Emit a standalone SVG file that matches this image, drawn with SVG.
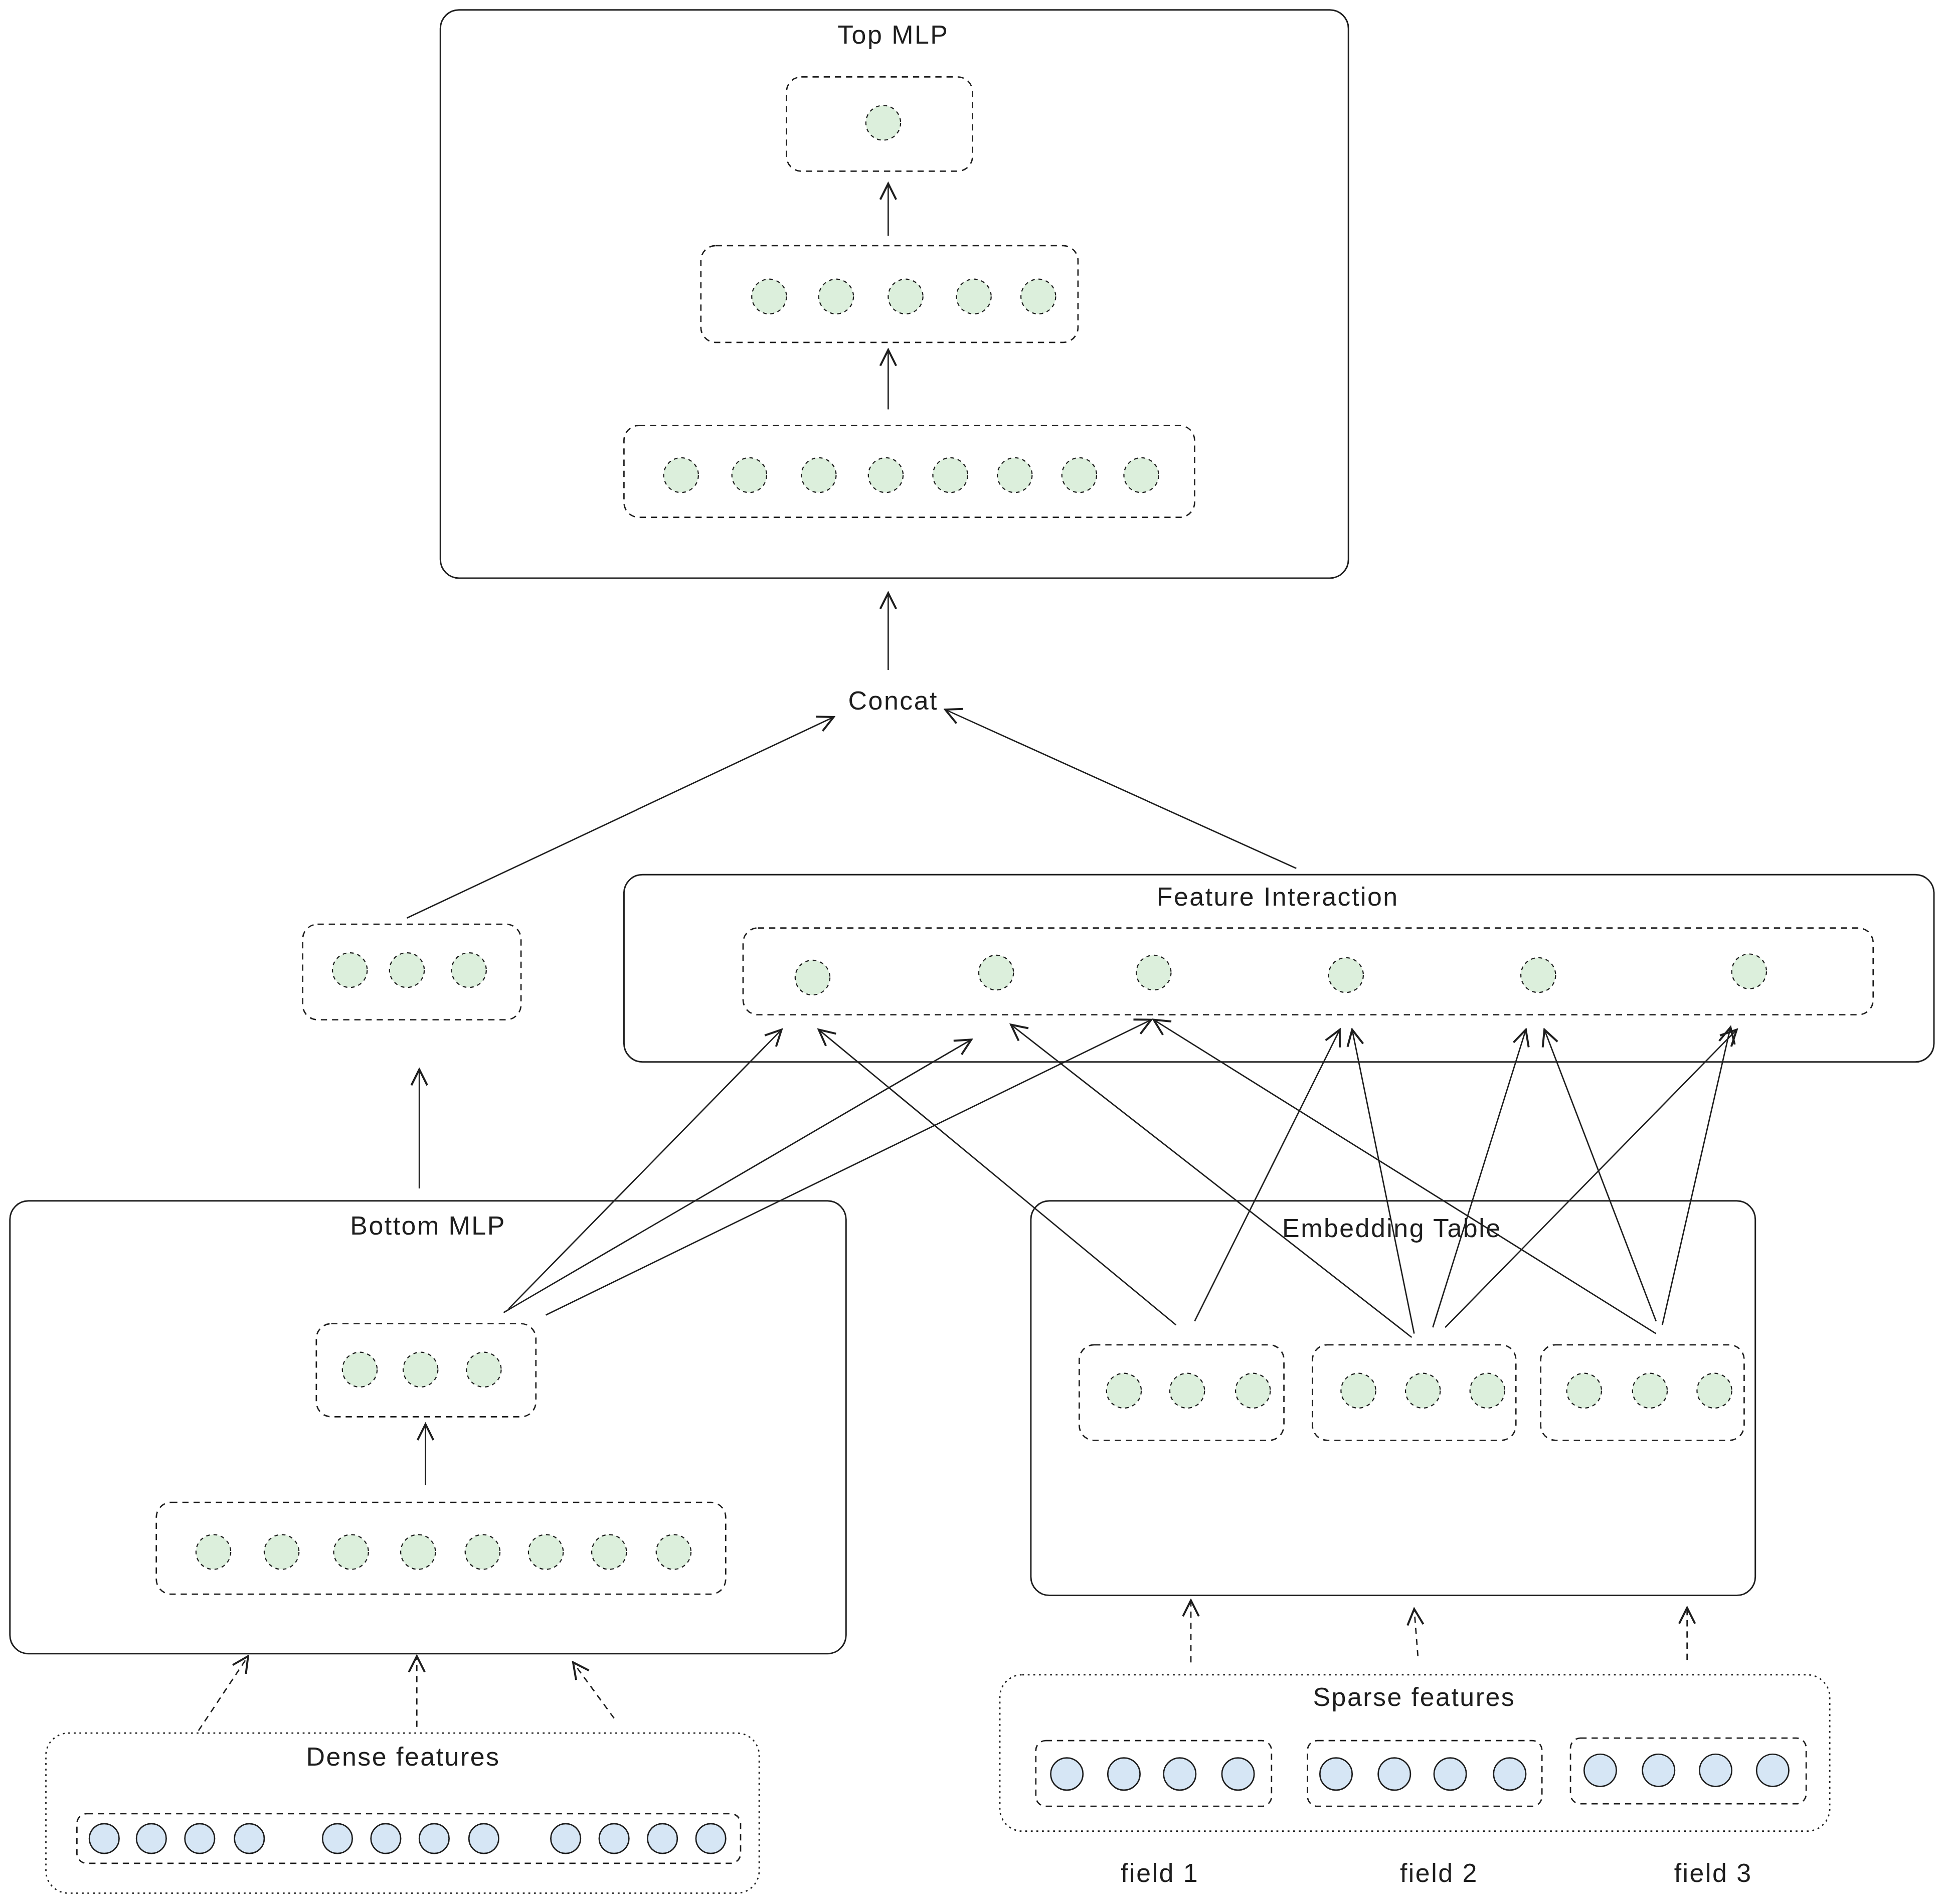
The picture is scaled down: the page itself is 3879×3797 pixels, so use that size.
<svg xmlns="http://www.w3.org/2000/svg" width="3879" height="3797" viewBox="0 0 3879 3797">
<defs>
<style>
.box{fill:none;stroke:#1e1e1e;stroke-width:1.2}
.dash{fill:none;stroke:#1e1e1e;stroke-width:1.1;stroke-dasharray:5 4}
.dot{fill:none;stroke:#1e1e1e;stroke-width:1.1;stroke-dasharray:1.5 3}
.g circle{fill:#dcefdc;stroke:#1e1e1e;stroke-width:0.9;stroke-dasharray:3 3}
.b circle{fill:#d6e6f5;stroke:#1e1e1e;stroke-width:1.1}
.t{font-family:"Liberation Sans",Arial,sans-serif;font-size:21px;fill:#1e1e1e;text-anchor:middle;letter-spacing:1px}
.c line{stroke:#1e1e1e;stroke-width:1.1;marker-end:url(#a)}
.c .d{stroke-dasharray:5 4}
</style>
<marker id="a" viewBox="0 0 20 20" refX="18" refY="10" markerWidth="16" markerHeight="16" markerUnits="userSpaceOnUse" orient="auto"><path d="M2 2 L18 10 L2 18" fill="none" stroke="#1e1e1e" stroke-width="2"/></marker>
</defs>
<rect width="3879" height="3797" fill="#fff"/>
<g transform="scale(2.474)">
<g id="top-mlp"><rect class="box" x="355" y="8" width="732" height="458" rx="15"/><text class="t" x="720" y="35">Top MLP</text>
<rect class="dash" x="634" y="62" width="150" height="76" rx="12"/><g class="g"><circle cx="712" cy="99" r="14"/></g>
<rect class="dash" x="565" y="198" width="304" height="78" rx="12"/><g class="g"><circle cx="620" cy="239" r="14"/><circle cx="674" cy="239" r="14"/><circle cx="730" cy="239" r="14"/><circle cx="785" cy="239" r="14"/><circle cx="837" cy="239" r="14"/></g>
<rect class="dash" x="503" y="343" width="460" height="74" rx="12"/><g class="g"><circle cx="549" cy="383" r="14"/><circle cx="604" cy="383" r="14"/><circle cx="660" cy="383" r="14"/><circle cx="714" cy="383" r="14"/><circle cx="766" cy="383" r="14"/><circle cx="818" cy="383" r="14"/><circle cx="870" cy="383" r="14"/><circle cx="920" cy="383" r="14"/></g></g>
<g id="concat"><text class="t" x="720" y="572">Concat</text></g>
<g id="bottom-out"><rect class="dash" x="244" y="745" width="176" height="77" rx="12"/><g class="g"><circle cx="282" cy="782" r="14"/><circle cx="328" cy="782" r="14"/><circle cx="378" cy="782" r="14"/></g></g>
<g id="feature-interaction"><rect class="box" x="503" y="705" width="1056" height="151" rx="15"/><text class="t" x="1030" y="730">Feature Interaction</text>
<rect class="dash" x="599" y="748" width="911" height="70" rx="12"/><g class="g"><circle cx="655" cy="788" r="14"/><circle cx="803" cy="784" r="14"/><circle cx="930" cy="784" r="14"/><circle cx="1085" cy="786" r="14"/><circle cx="1240" cy="786" r="14"/><circle cx="1410" cy="783" r="14"/></g></g>
<g id="bottom-mlp"><rect class="box" x="8" y="968" width="674" height="365" rx="15"/><text class="t" x="345" y="995">Bottom MLP</text>
<rect class="dash" x="255" y="1067" width="177" height="75" rx="12"/><g class="g"><circle cx="290" cy="1104" r="14"/><circle cx="339" cy="1104" r="14"/><circle cx="390" cy="1104" r="14"/></g>
<rect class="dash" x="126" y="1211" width="459" height="74" rx="12"/><g class="g"><circle cx="172" cy="1251" r="14"/><circle cx="227" cy="1251" r="14"/><circle cx="283" cy="1251" r="14"/><circle cx="337" cy="1251" r="14"/><circle cx="389" cy="1251" r="14"/><circle cx="440" cy="1251" r="14"/><circle cx="491" cy="1251" r="14"/><circle cx="543" cy="1251" r="14"/></g></g>
<g id="embedding-table"><rect class="box" x="831" y="968" width="584" height="318" rx="15"/><text class="t" x="1122" y="997">Embedding Table</text>
<rect class="dash" x="870" y="1084" width="165" height="77" rx="12"/><rect class="dash" x="1058" y="1084" width="164" height="77" rx="12"/><rect class="dash" x="1242" y="1084" width="164" height="77" rx="12"/>
<g class="g"><circle cx="906" cy="1121" r="14"/><circle cx="957" cy="1121" r="14"/><circle cx="1010" cy="1121" r="14"/><circle cx="1095" cy="1121" r="14"/><circle cx="1147" cy="1121" r="14"/><circle cx="1199" cy="1121" r="14"/><circle cx="1277" cy="1121" r="14"/><circle cx="1330" cy="1121" r="14"/><circle cx="1382" cy="1121" r="14"/></g></g>
<g id="dense-features"><rect class="dot" x="37" y="1397" width="575" height="129" rx="18"/><text class="t" x="325" y="1423">Dense features</text>
<rect class="dash" x="62" y="1462" width="535" height="40" rx="8"/><g class="b"><circle cx="84" cy="1482" r="12"/><circle cx="122" cy="1482" r="12"/><circle cx="161" cy="1482" r="12"/><circle cx="201" cy="1482" r="12"/><circle cx="272" cy="1482" r="12"/><circle cx="311" cy="1482" r="12"/><circle cx="350" cy="1482" r="12"/><circle cx="390" cy="1482" r="12"/><circle cx="456" cy="1482" r="12"/><circle cx="495" cy="1482" r="12"/><circle cx="534" cy="1482" r="12"/><circle cx="573" cy="1482" r="12"/></g></g>
<g id="sparse-features"><rect class="dot" x="806" y="1350" width="669" height="126" rx="18"/><text class="t" x="1140" y="1375">Sparse features</text>
<rect class="dash" x="835" y="1403" width="190" height="53" rx="8"/><rect class="dash" x="1054" y="1403" width="189" height="53" rx="8"/><rect class="dash" x="1266" y="1401" width="190" height="53" rx="8"/>
<g class="b"><circle cx="860" cy="1430" r="13"/><circle cx="906" cy="1430" r="13"/><circle cx="951" cy="1430" r="13"/><circle cx="998" cy="1430" r="13"/><circle cx="1077" cy="1430" r="13"/><circle cx="1124" cy="1430" r="13"/><circle cx="1169" cy="1430" r="13"/><circle cx="1217" cy="1430" r="13"/><circle cx="1290" cy="1427" r="13"/><circle cx="1337" cy="1427" r="13"/><circle cx="1383" cy="1427" r="13"/><circle cx="1429" cy="1427" r="13"/></g></g>
<g id="field-labels"><text class="t" x="935" y="1517">field 1</text><text class="t" x="1160" y="1517">field 2</text><text class="t" x="1381" y="1517">field 3</text></g>
<g id="connectors" class="c">
<line x1="716" y1="190" x2="716" y2="148"/><line x1="716" y1="330" x2="716" y2="282"/><line x1="716" y1="540" x2="716" y2="478"/>
<line x1="328" y1="740" x2="672" y2="578"/><line x1="1045" y1="700" x2="762" y2="572"/>
<line x1="338" y1="958" x2="338" y2="862"/><line x1="343" y1="1197" x2="343" y2="1148"/>
<line x1="410" y1="1055" x2="630" y2="830"/><line x1="406" y1="1058" x2="783" y2="838"/><line x1="440" y1="1060" x2="928" y2="822"/>
<line x1="948" y1="1068" x2="660" y2="830"/><line x1="963" y1="1065" x2="1080" y2="830"/>
<line x1="1138" y1="1078" x2="815" y2="826"/><line x1="1140" y1="1075" x2="1090" y2="830"/><line x1="1155" y1="1070" x2="1230" y2="830"/><line x1="1165" y1="1070" x2="1400" y2="830"/>
<line x1="1335" y1="1075" x2="930" y2="822"/><line x1="1335" y1="1065" x2="1245" y2="830"/><line x1="1340" y1="1068" x2="1395" y2="828"/>
<line class="d" x1="160" y1="1395" x2="200" y2="1335"/><line class="d" x1="336" y1="1392" x2="336" y2="1335"/><line class="d" x1="495" y1="1385" x2="462" y2="1340"/>
<line class="d" x1="960" y1="1340" x2="960" y2="1290"/><line class="d" x1="1143" y1="1335" x2="1140" y2="1297"/><line class="d" x1="1360" y1="1338" x2="1360" y2="1296"/>
</g>
</g>
</svg>
